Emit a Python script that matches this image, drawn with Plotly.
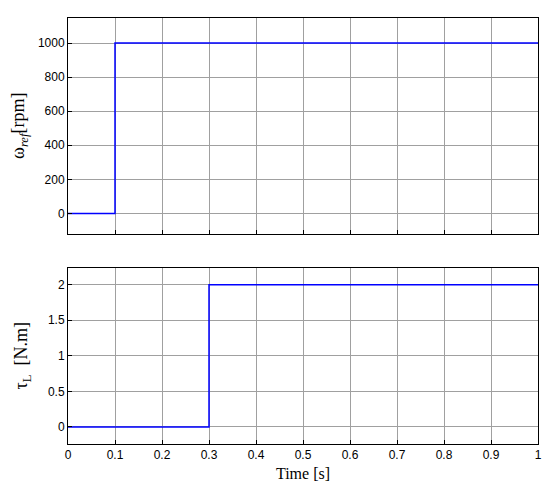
import plotly.graph_objects as go
from plotly.subplots import make_subplots

# step data
t_ref = [0, 0.1, 0.1, 1.0]
w_ref = [0, 0, 1000, 1000]
t_load = [0, 0.3, 0.3, 1.0]
tau_load = [0, 0, 2, 2]

fig = make_subplots(rows=2, cols=1, vertical_spacing=0.08, row_heights=[0.55, 0.45])
blue = "#0000ff"
fig.add_trace(go.Scatter(x=t_ref, y=w_ref, mode="lines", line=dict(color=blue, width=1.5)), row=1, col=1)
fig.add_trace(go.Scatter(x=t_load, y=tau_load, mode="lines", line=dict(color=blue, width=1.5)), row=2, col=1)

ax = dict(showline=True, mirror=True, linecolor="black", linewidth=1, showgrid=True,
          gridcolor="#a0a0a0", gridwidth=1, zeroline=False, ticks="inside", ticklen=4,
          tickcolor="black", automargin=False,
          tickfont=dict(family="Liberation Sans, Arial", size=12, color="black"))
fig.update_xaxes(**ax, range=[0, 1], dtick=0.1)
fig.update_xaxes(showticklabels=False, row=1, col=1)
fig.update_xaxes(tickvals=[i / 10 for i in range(11)],
                 ticktext=["0", "0.1", "0.2", "0.3", "0.4", "0.5", "0.6", "0.7", "0.8", "0.9", "1"],
                 title=dict(text="Time [s]", font=dict(family="Liberation Serif, Times New Roman", size=16, color="black"), standoff=6),
                 row=2, col=1)
fig.update_yaxes(**ax)
fig.update_yaxes(range=[-118, 1147], dtick=200, row=1, col=1,
                 title=dict(text="ω<sub><i>ref</i></sub>[rpm]", font=dict(family="Liberation Serif, Times New Roman", size=18, color="black")))
fig.update_yaxes(range=[-0.24, 2.24], dtick=0.5, row=2, col=1,
                 title=dict(text="τ<sub>L</sub>  [N.m]", font=dict(family="Liberation Serif, Times New Roman", size=18, color="black")))

fig.update_layout(width=550, height=498, showlegend=False, plot_bgcolor="white", paper_bgcolor="white",
                  margin=dict(l=60, r=20, t=10, b=62))
fig.write_html("out.html")
